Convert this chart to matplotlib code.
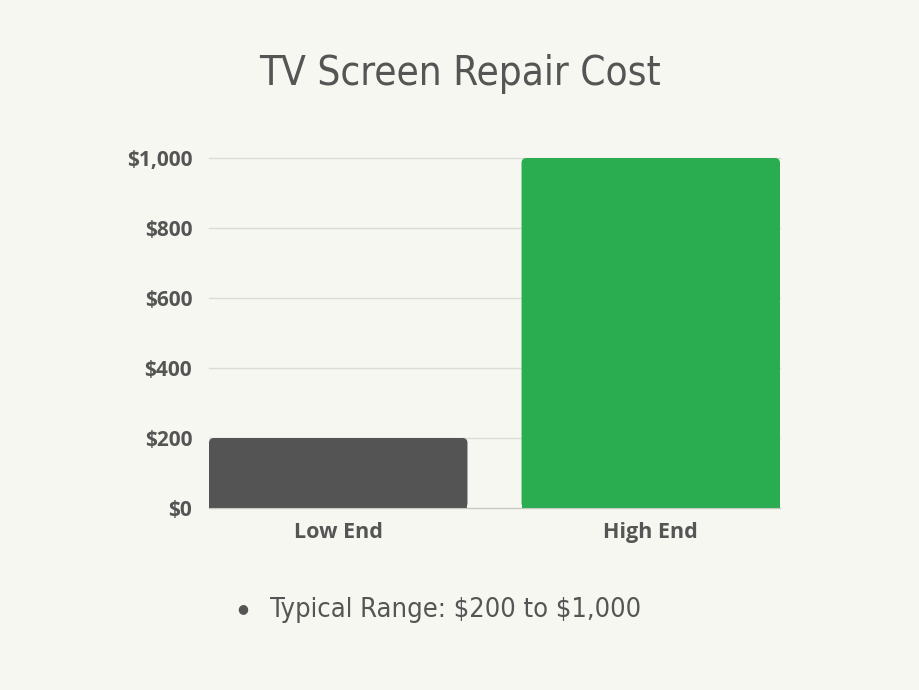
import matplotlib
matplotlib.use("Agg")
import matplotlib.pyplot as plt
from matplotlib.patches import FancyBboxPatch, Rectangle

# chart data
categories = ["Low End", "High End"]
costs = [200, 1000]
bar_colors = ["#545454", "#2aad51"]
yticks = [0, 200, 400, 600, 800, 1000]
ytick_labels = ["\\$0", "\\$200", "\\$400", "\\$600", "\\$800", "\\$1,000"]

BG = "#f7f7f1"
TXT = "#555555"

plt.rcParams['font.family'] = ["Open Sans", "DejaVu Sans"]

fig = plt.figure(figsize=(9.2, 6.9), dpi=100, facecolor=BG)
ax = fig.add_axes([0.227, 0.2638, 0.621, 0.5072], facecolor=BG)

x = list(range(len(categories)))
bars = ax.bar(x, costs, width=0.827, color=bar_colors, zorder=3)

ax.set_xlim(-0.414, 1.414)
ax.set_ylim(0, 1000)

# rounded tops: redraw each bar from its own geometry
r = 0.016
asp = (1000 / 350) / (1.828 / 571)
for b in bars:
    bx, by, bw, bh = b.get_x(), b.get_y(), b.get_width(), b.get_height()
    col = b.get_facecolor()
    b.remove()
    ax.add_patch(FancyBboxPatch((bx, by), bw, bh, boxstyle="round,pad=0,rounding_size=%f" % r,
                                mutation_aspect=asp, facecolor=col, edgecolor="none", zorder=3))
    ax.add_patch(Rectangle((bx, by), bw, bh / 2, facecolor=col, edgecolor="none", zorder=3))

ax.set_yticks(yticks)
ax.set_yticklabels(ytick_labels, fontsize=15, fontweight="bold", color=TXT)
ax.set_xticks(x)
ax.set_xticklabels(categories, fontsize=15.5, fontweight="bold", color=TXT)
ax.tick_params(axis="y", length=0, pad=12)
ax.tick_params(axis="x", length=0, pad=10)

ax.grid(axis="y", color="#dcdcd6", linewidth=1, zorder=0)
for g in ax.get_ygridlines():
    g.set_clip_on(False)
for s in ["top", "right", "left"]:
    ax.spines[s].set_visible(False)
ax.spines["bottom"].set_color("#c8c8c2")
ax.spines["bottom"].set_zorder(4)

fig.text(0.5, 0.893, "TV Screen Repair Cost", ha="center", va="center",
         fontsize=29, color=TXT, family="DejaVu Sans", fontstretch="condensed")
fig.text(0.293, 0.116, "Typical Range: \\$200 to \\$1,000", ha="left", va="center",
         fontsize=19.5, color=TXT, family="DejaVu Sans", fontstretch="condensed")
fig.text(0.264, 0.118, "\u25cf", ha="center", va="center",
         fontsize=9, color=TXT, family="DejaVu Sans")

fig.savefig("out.png", dpi=100, facecolor=BG)
